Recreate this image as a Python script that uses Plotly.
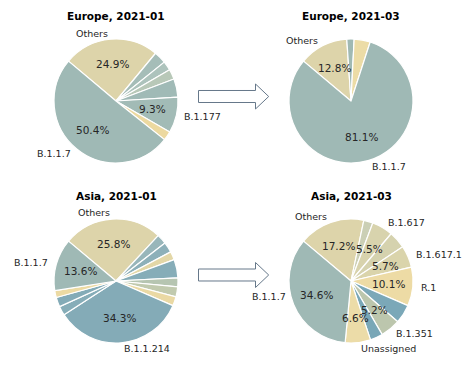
import math
import plotly.graph_objects as go

W, H = 474, 376

# ---------------- data (counterclockwise order, starting at 140 deg) ----------------
eu01_names = ["B.1.1.7", "", "B.1.177", "", "", "", "", "Others"]
eu01_values = [50.4, 2.4, 9.3, 4.8, 2.6, 2.4, 3.2, 24.9]

eu03_names = ["B.1.1.7", "", "", "Others"]
eu03_values = [81.1, 4.2, 1.9, 12.8]

as01_names = ["B.1.1.7", "", "", "", "B.1.1.214", "", "", "", "", "", "", "", "Others"]
as01_values = [13.6, 1.8, 2.5, 2.4, 34.3, 2.4, 2.6, 2.3, 4.8, 2.2, 2.7, 2.6, 25.8]

as03_names = ["B.1.1.7", "Unassigned", "", "B.1.351", "", "R.1", "B.1.617.1", "",
              "B.1.617", "", "Others"]
as03_values = [34.6, 6.6, 3.3, 5.2, 4.9, 10.1, 5.7, 4.5, 5.5, 2.4, 17.2]

titles = ["Europe, 2021-01", "Europe, 2021-03", "Asia, 2021-01", "Asia, 2021-03"]

# ---------------- styling ----------------
BGREY = "#9fb9b5"
TAN = "#ddd4aa"
eu01_colors = [BGREY, "#ecd9a0", "#a2bbb6", "#a0bab6", "#b8c8b8", "#adc3bc", "#a5bdb8", TAN]
eu03_colors = [BGREY, "#ecdca6", "#a0b9b3", TAN]
as01_colors = [BGREY, "#ecdaa3", "#83abb7", "#86adb8", "#84abb7", "#ead9a4", "#c1caae",
               "#b6c5b1", "#86adb8", "#e3d7a7", "#8db0b9", "#98b6ba", TAN]
as03_colors = [BGREY, "#ecdca8", "#79a7b7", "#bcc6ad", "#7ba8b8", "#eddba5", "#dad4ab",
               "#d5d2ae", "#d8d3ad", "#cbcfb5", TAN]

START = 140.0  # degrees, counterclockwise from 3 o'clock
R = 62.0
centers = [(116, 101), (351, 101), (116, 281), (351, 281)]
label_nudge = {(3, "B.1.1.7"): -10}

FONT = "DejaVu Sans"
TXT = "#262626"

pies = [
    (eu01_names, eu01_values, eu01_colors),
    (eu03_names, eu03_values, eu03_colors),
    (as01_names, as01_values, as01_colors),
    (as03_names, as03_values, as03_colors),
]


def px(x):
    return x / W


def py(y):
    return 1 - y / H


fig = go.Figure()
annotations = []

for k, (names, values, colors) in enumerate(pies):
    cx, cy = centers[k]
    ids = [n if n else f"lineage {i + 1}" for i, n in enumerate(names)]
    fig.add_trace(go.Pie(
        labels=ids[::-1],
        values=values[::-1],
        marker=dict(colors=colors[::-1], line=dict(color="white", width=1.2)),
        sort=False,
        direction="clockwise",
        rotation=90 - START,
        textinfo="none",
        hoverinfo="label+percent",
        showlegend=False,
        domain=dict(x=[px(cx - R), px(cx + R)], y=[py(cy + R), py(cy - R)]),
    ))
    total = sum(values)
    cum = 0.0
    for name, v in zip(names, values):
        mid = math.radians(START + (cum + v / 2) / total * 360)
        cum += v
        c, s = math.cos(mid), math.sin(mid)
        if v / total * 100 >= 5:
            annotations.append(dict(
                x=px(cx + 0.6 * R * c), y=py(cy - 0.6 * R * s),
                xref="paper", yref="paper", text=f"{v:.1f}%", showarrow=False,
                xanchor="center", yanchor="middle",
                font=dict(family=FONT, size=10.5, color=TXT)))
        if name:
            dy = label_nudge.get((k, name), 0)
            annotations.append(dict(
                x=px(cx + 1.1 * R * c), y=py(cy - 1.1 * R * s + dy),
                xref="paper", yref="paper", text=name, showarrow=False,
                xanchor="left" if c > 0 else "right", yanchor="middle",
                font=dict(family=FONT, size=9.5, color=TXT)))
    annotations.append(dict(
        x=px(cx), y=py(cy - R - 23), xref="paper", yref="paper",
        text=f"<b>{titles[k]}</b>", showarrow=False, xanchor="center", yanchor="middle",
        font=dict(family=FONT, size=10.5, color="black")))

# hollow arrows
shapes = []
for ay in (96.5, 275.0):
    pts = [(198.5, ay - 6), (255.5, ay - 6), (255.5, ay - 12.5), (268.7, ay),
           (255.5, ay + 12.5), (255.5, ay + 6), (198.5, ay + 6)]
    path = "M " + " L ".join(f"{px(x):.5f},{py(y):.5f}" for x, y in pts) + " Z"
    shapes.append(dict(type="path", xref="paper", yref="paper", path=path,
                       fillcolor="white", line=dict(color="#66788a", width=1)))

fig.update_layout(
    width=W, height=H,
    margin=dict(l=0, r=0, t=0, b=0),
    paper_bgcolor="white", plot_bgcolor="white",
    annotations=annotations, shapes=shapes,
    font=dict(family=FONT),
)

fig.write_html(
    "out.html",
    config={"displayModeBar": False},
    post_script="document.body.style.margin='0';document.body.style.padding='0';",
)
